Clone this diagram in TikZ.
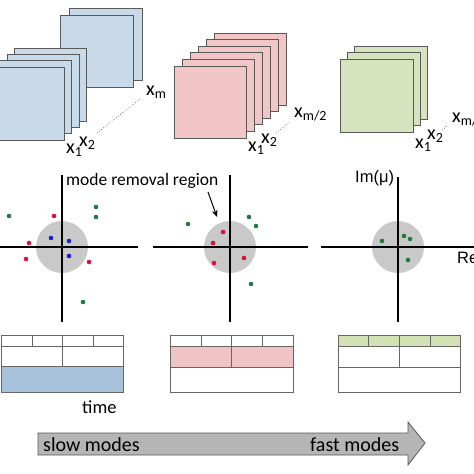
\documentclass[tikz,border=0pt]{standalone}
\usepackage{fontspec}
\setmainfont{Carlito}
\newfontfamily\arialfont{Liberation Sans}
\usetikzlibrary{arrows.meta}
\definecolor{sqblue}{HTML}{C8D9EA}
\definecolor{sqred}{HTML}{F2C6C6}
\definecolor{sqgreen}{HTML}{D6E3BF}
\definecolor{barblue}{HTML}{A8C2DC}
\definecolor{barred}{HTML}{F0C4C4}
\definecolor{bargreen}{HTML}{D2E2B4}
\definecolor{dotred}{HTML}{E0103C}
\definecolor{dotgreen}{HTML}{1F7A3C}
\definecolor{dotblue}{HTML}{1C1CD8}
\definecolor{regiongray}{HTML}{C9C9C9}
\definecolor{arrowgray}{HTML}{B5B5B5}
\begin{document}
\begin{tikzpicture}[x=1pt,y=-1pt,
  frame/.style={draw=black!65, line width=0.8pt},
  barline/.style={draw=black!60, line width=0.8pt},
  axis/.style={draw=black, line width=1.2pt},
  region/.style={fill=regiongray},
  lbl/.style={inner sep=0pt, anchor=base west, font=\fontsize{20}{22}\selectfont},
  cal/.style={inner sep=0pt, anchor=base west},
  dotline/.style={draw=black!60, line width=0.7pt, dotted}]
\useasboundingbox (0,0) rectangle (474,474);
\fill[white] (0,0) rectangle (474,474);

% ---------- top row: frame stacks ----------
% panel 1, back group
\draw[frame, fill=sqblue] (69,8) rectangle ++(73,72);
\draw[frame, fill=sqblue] (60,15) rectangle ++(73,72);
% panel 1, front group
\foreach \i in {3,2,1,0} {
  \draw[frame, fill=sqblue] ({-8+7.6*\i},{67-6.3*\i}) rectangle ++(72,73);
}
% panel 2
\foreach \i in {5,4,3,2,1,0} {
  \draw[frame, fill=sqred] ({174+8*\i},{66-6.6*\i}) rectangle ++(72,72);
}
% panel 3
\foreach \i in {2,1,0} {
  \draw[frame, fill=sqgreen] ({340+7*\i},{59-6.5*\i}) rectangle ++(73,73);
}

% labels panel 1
\node[lbl] (xm1) at (146,95) {x\textsubscript{m}};
\node[lbl] (xa1) at (66,153) {x\textsubscript{1}};
\node[lbl] (xb1) at (79,146) {x\textsubscript{2}};
\coordinate (l1s) at (97,133);
\coordinate (l1e) at (140,99);
\draw[dotline] (l1s) -- (l1e);
% labels panel 2
\node[lbl] (xm2) at (294,117) {x\textsubscript{m/2}};
\node[lbl] (xa2) at (248,151) {x\textsubscript{1}};
\node[lbl] (xb2) at (261,143) {x\textsubscript{2}};
\coordinate (l2s) at (276,133);
\coordinate (l2e) at (290,122);
\draw[dotline] (l2s) -- (l2e);
% labels panel 3
\node[lbl] (xm3) at (452,122) {x\textsubscript{m/4}};
\node[lbl] (xa3) at (415,148) {x\textsubscript{1}};
\node[lbl] (xb3) at (427,139) {x\textsubscript{2}};
\coordinate (l3s) at (442,130);
\coordinate (l3e) at (447,126);
\draw[dotline] (l3s) -- (l3e);

% ---------- middle row: spectra ----------
\fill[region] (62,247) circle (26);
\fill[region] (230,247) circle (26);
\fill[region] (398,247) circle (26);

\draw[axis] (62,175) -- (62,322);
\draw[axis] (0,247) -- (138,247);
\draw[axis] (230,175) -- (230,322);
\draw[axis] (153,247) -- (308,247);
\draw[axis] (398,177) -- (398,322);
\draw[axis] (321,247) -- (480,247);

% dots panel 1
\foreach \p in {(9,216),(96,207),(96,217),(83,302)} \fill[dotgreen] \p circle (2.3);
\foreach \p in {(54,216),(29,243),(26,259),(89,262)} \fill[dotred] \p circle (2.3);
\foreach \p in {(51,238),(69,241),(69,256)} \fill[dotblue] \p circle (2.3);
% dots panel 2
\foreach \p in {(188,224),(249,217),(256,226),(251,284)} \fill[dotgreen] \p circle (2.3);
\foreach \p in {(223,232),(213,243),(214,263),(244,258)} \fill[dotred] \p circle (2.3);
% dots panel 3
\foreach \p in {(382,241),(404,236),(410,239),(408,260)} \fill[dotgreen] \p circle (2.3);

\node[cal, font=\fontsize{17.5}{20}\selectfont] (mrr) at (66,185) {mode removal region};
\coordinate (mrrs) at (208,192);
\coordinate (mrre) at (217,217);
\draw[line width=1pt, -{Stealth[length=7pt,width=6pt]}] (mrrs) -- (mrre);

\node[cal, font=\arialfont\fontsize{16.5}{18}\selectfont] (im) at (355,182) {Im(μ)};
\node[cal, font=\arialfont\fontsize{16.5}{18}\selectfont] (re) at (457,263) {Re(μ)};

% ---------- bottom row: time bars ----------
% panel 1
\fill[barblue] (1.5,366) rectangle (123,392);
\draw[barline] (1.5,335) rectangle (123,392);
\draw[barline] (1.5,346) -- (123,346);
\draw[barline] (1.5,366) -- (123,366);
\draw[barline] (32,335) -- (32,346);
\draw[barline] (62.5,335) -- (62.5,366);
\draw[barline] (93,335) -- (93,346);
\node[cal, font=\fontsize{18.5}{20}\selectfont] (time) at (82,413) {time};
% panel 2
\fill[barred] (170,346) rectangle (293,367);
\draw[barline] (170,335) rectangle (293,392);
\draw[barline] (170,346) -- (293,346);
\draw[barline] (170,367) -- (293,367);
\draw[barline] (201,335) -- (201,346);
\draw[barline] (231.5,335) -- (231.5,367);
\draw[barline] (262,335) -- (262,346);
% panel 3
\fill[bargreen] (338,335) rectangle (460,346);
\draw[barline] (338,335) rectangle (460,392);
\draw[barline] (338,346) -- (460,346);
\draw[barline] (338,367) -- (460,367);
\draw[barline] (368,335) -- (368,346);
\draw[barline] (399,335) -- (399,367);
\draw[barline] (430,335) -- (430,346);

% ---------- bottom arrow ----------
\draw[fill=arrowgray, draw=black!65, line width=0.8pt]
  (38,433) -- (408,433) -- (408,422) -- (425,443) -- (408,465) -- (408,455) -- (38,455) -- cycle;
\node[cal, font=\fontsize{20}{22}\selectfont] (slow) at (43,451) {slow modes};
\node[cal, font=\fontsize{20}{22}\selectfont] (fast) at (310,451) {fast modes};
\end{tikzpicture}
\end{document}
